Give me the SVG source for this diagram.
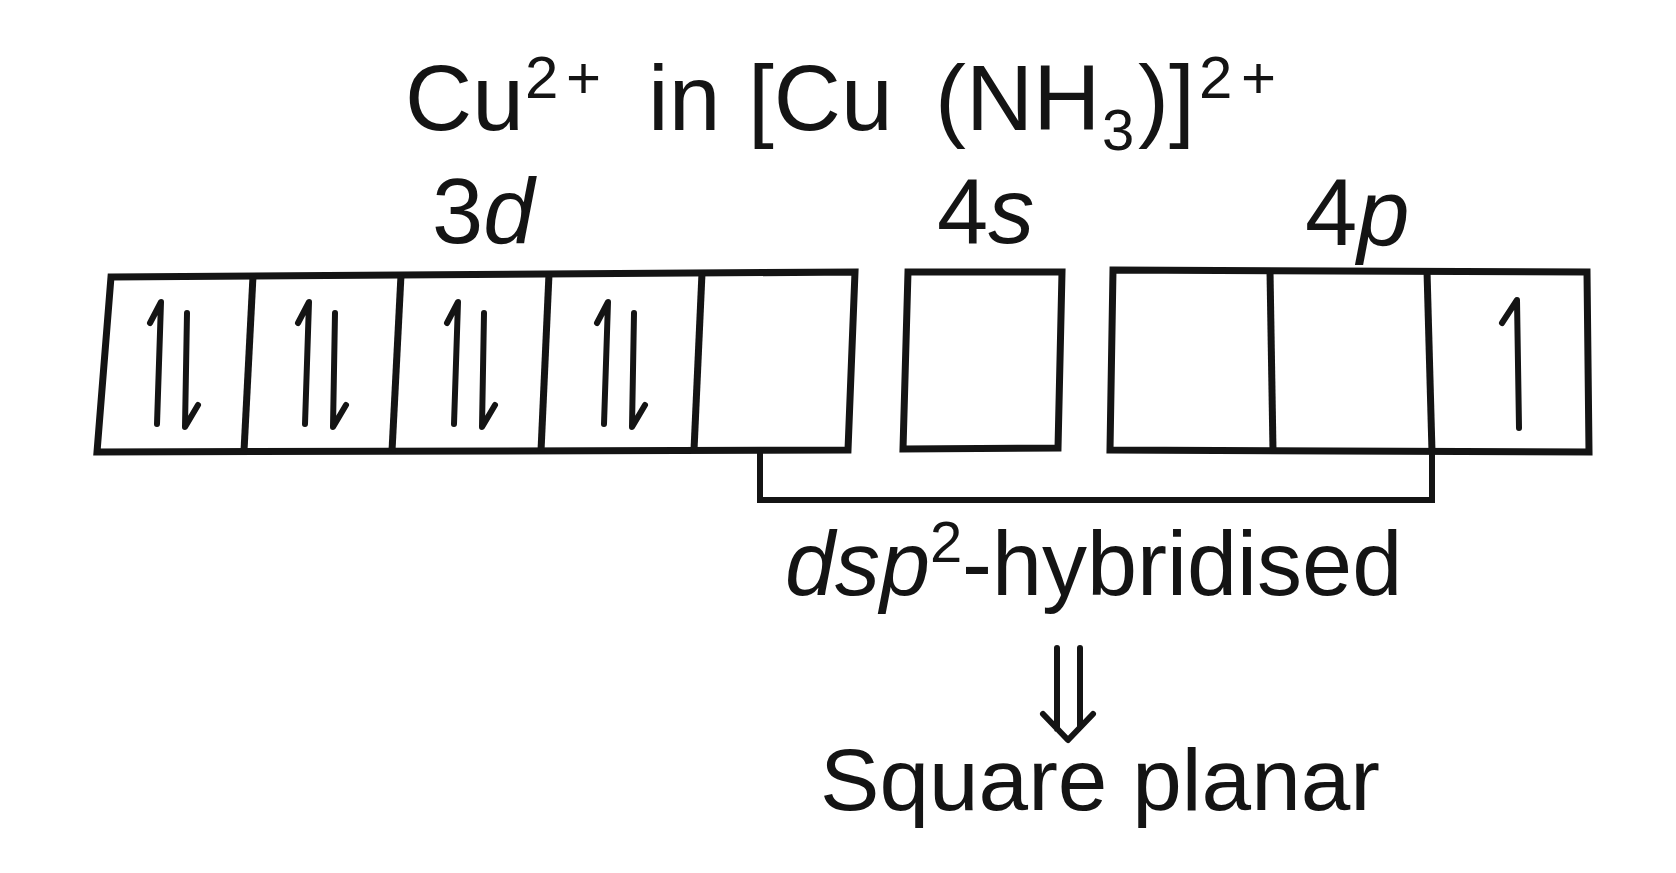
<svg xmlns="http://www.w3.org/2000/svg" width="1676" height="873" viewBox="0 0 1676 873">
<style>
.t{font-family:"Liberation Sans",Arial,sans-serif;fill:#141414}
.it{font-style:italic}
.box{fill:none;stroke:#141414;stroke-width:7;stroke-linejoin:miter}
.div{stroke:#141414;stroke-width:7}
.e{fill:none;stroke:#141414;stroke-width:6;stroke-linecap:round;stroke-linejoin:round}
.con{fill:none;stroke:#141414;stroke-width:6;stroke-linejoin:miter}
</style>
<rect width="1676" height="873" fill="#ffffff"/>
<g id="title">
<text class="t" font-size="93" y="130"><tspan x="405">Cu</tspan><tspan x="525" y="98" font-size="60">2</tspan><tspan x="566" y="98" font-size="60">+</tspan><tspan x="648" y="130">in</tspan><tspan x="748" y="130">[Cu</tspan><tspan x="935" y="130">(NH</tspan><tspan x="1102" y="150" font-size="58">3</tspan><tspan x="1138" y="130">)]</tspan><tspan x="1199" y="98" font-size="60">2</tspan><tspan x="1241" y="98" font-size="60">+</tspan></text>
</g>
<g id="label-3d"><text class="t" font-size="92" x="432" y="243">3<tspan class="it">d</tspan></text></g>
<g id="label-4s"><text class="t" font-size="92" x="937" y="243">4<tspan class="it">s</tspan></text></g>
<g id="label-4p"><text class="t" font-size="94" x="1305" y="245">4<tspan class="it">p</tspan></text></g>
<g id="orbital-3d">
<polygon class="box" points="111,277 855,272 848,450 97,452"/>
<line class="div" x1="253" y1="276" x2="244" y2="451"/>
<line class="div" x1="401" y1="275" x2="392" y2="451"/>
<line class="div" x1="549" y1="274" x2="541" y2="451"/>
<line class="div" x1="702" y1="273" x2="694" y2="450"/>
<path class="e" d="M157,424 L161,302 L150,323 M187,313 L185,427 L198,405"/>
<path class="e" d="M305,424 L309,302 L298,323 M335,313 L333,427 L346,405"/>
<path class="e" d="M454,424 L458,302 L447,323 M484,313 L482,427 L495,405"/>
<path class="e" d="M604,424 L608,302 L597,323 M634,313 L632,427 L645,405"/>
</g>
<g id="orbital-4s">
<polygon class="box" points="908,272 1062,272 1058,448 903,449"/>
</g>
<g id="orbital-4p">
<polygon class="box" points="1113,270 1587,272 1589,452 1110,450"/>
<line class="div" x1="1270" y1="271" x2="1273" y2="451"/>
<line class="div" x1="1427" y1="271" x2="1432" y2="452"/>
<path class="e" d="M1519,428 L1517,300 L1502,323"/>
</g>
<g id="connectors">
<polyline class="con" points="760,452 760,500 1432,500 1432,452"/>
<path class="e" d="M1057,648 L1057,729 M1080,648 L1080,727 M1043,714 L1068,740 L1093,714"/>
</g>
<g id="label-dsp2">
<text class="t" font-size="90" x="785" y="595"><tspan class="it">dsp</tspan><tspan x="930" y="562" font-size="58">2</tspan><tspan x="962" y="595">-hybridised</tspan></text>
</g>
<g id="label-square">
<text class="t" font-size="88" x="820" y="810" textLength="560" lengthAdjust="spacingAndGlyphs">Square planar</text>
</g>
</svg>
